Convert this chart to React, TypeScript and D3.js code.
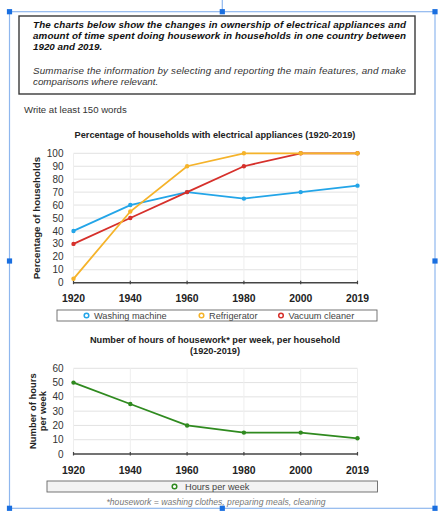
import * as d3 from 'd3';

// data
const years = ['1920', '1940', '1960', '1980', '2000', '2019'];
const washingMachine = [40, 60, 70, 65, 70, 75];
const refrigerator = [3, 55, 90, 100, 100, 100];
const vacuumCleaner = [30, 50, 70, 90, 100, 100];
const hoursPerWeek = [50, 35, 20, 15, 15, 11];
const pctTicks = [0, 10, 20, 30, 40, 50, 60, 70, 80, 90, 100];
const hourTicks = [0, 10, 20, 30, 40, 50, 60];

const applianceSeries = [
  { name: 'Washing machine', values: washingMachine, color: '#23a5e8' },
  { name: 'Vacuum cleaner', values: vacuumCleaner, color: '#d6302b' },
  { name: 'Refrigerator', values: refrigerator, color: '#f5b32a' },
];
const legendOrder = ['Washing machine', 'Refrigerator', 'Vacuum cleaner'];

const promptBold = [
  'The charts below show the changes in ownership of electrical appliances and',
  'amount of time spent doing housework in households in one country between',
  '1920 and 2019.',
];
const promptItalic = [
  'Summarise the information by selecting and reporting the main features, and make',
  'comparisons where relevant.',
];

const FONT = '"Liberation Sans", Arial, Helvetica, sans-serif';
const frameBlue = '#8fb7ee';
const handleBlue = '#1a6fe0';

export default function App() {
  const x = d3.scalePoint<string>().domain(years).range([73.5, 357.5]);
  const y1 = d3.scaleLinear().domain([0, 100]).range([282.7, 153.3]);
  const y2 = d3.scaleLinear().domain([0, 60]).range([454, 368.3]);

  const line1 = (vals: number[]) =>
    d3.line<number>().x((_, i) => x(years[i])!).y(d => y1(d))(vals) || '';
  const line2 = d3.line<number>().x((_, i) => x(years[i])!).y(d => y2(d));

  const [x0, x1] = x.range();

  const handles = [
    [9.5, 11.7], [222.3, 11.7], [435, 11.7],
    [9.5, 261], [435, 261],
    [9.5, 508.3], [222.3, 508.3], [435, 508.3],
  ];

  const legendX: Record<string, number> = {
    'Washing machine': 86.5,
    'Refrigerator': 201.5,
    'Vacuum cleaner': 281,
  };

  return (
    <svg
      width={447}
      height={512}
      style={{ position: 'absolute', left: 0, top: 0, background: '#fff' }}
      fontFamily={FONT}
    >
      <rect x={0} y={0} width={447} height={512} fill="#fff" />

      {/* prompt box */}
      <rect x={19} y={16} width={396} height={78} fill="#fff" stroke="#3a3a3a" strokeWidth={1.4} />
      {promptBold.map((t, i) => (
        <text
          key={t}
          x={33}
          y={27.7 + i * 11.3}
          fontSize={9.8}
          fontWeight="bold"
          fontStyle="italic"
          fill="#111"
          {...(i < 2 ? { textLength: 373, lengthAdjust: 'spacing' } : {})}
        >
          {t}
        </text>
      ))}
      {promptItalic.map((t, i) => (
        <text
          key={t}
          x={33}
          y={74 + i * 11}
          fontSize={9.8}
          fontStyle="italic"
          fill="#333"
          {...(i < 1 ? { textLength: 373, lengthAdjust: 'spacing' } : {})}
        >
          {t}
        </text>
      ))}
      <text x={24} y={113.3} fontSize={9.6} fill="#333">Write at least 150 words</text>

      {/* chart 1 */}
      <text x={215} y={137.5} textAnchor="middle" fontSize={9.2} fontWeight="bold" fill="#222">
        Percentage of households with electrical appliances (1920-2019)
      </text>
      {pctTicks.map(t => (
        <g key={t}>
          {t > 0 && (
            <line x1={x0} x2={x1} y1={y1(t)} y2={y1(t)} stroke="#e2e2e2" strokeWidth={1} />
          )}
          <text x={63.5} y={y1(t) + 3.6} textAnchor="end" fontSize={10} fill="#333">{t}</text>
        </g>
      ))}
      {years.map(yr => (
        <g key={yr}>
          <line x1={x(yr)} x2={x(yr)} y1={y1(100)} y2={y1(0)} stroke="#eeeeee" strokeWidth={1} />
          <line x1={x(yr)} x2={x(yr)} y1={y1(0) - 2} y2={y1(0) + 1.5} stroke="#444" strokeWidth={1.2} />
          <text x={x(yr)} y={302} textAnchor="middle" fontSize={10.4} fontWeight="bold" fill="#222">{yr}</text>
        </g>
      ))}
      <line x1={x0} x2={x1} y1={y1(0)} y2={y1(0)} stroke="#444" strokeWidth={1.4} />
      <text
        transform={`translate(39.5,${(y1(0) + y1(100)) / 2}) rotate(-90)`}
        textAnchor="middle"
        fontSize={9.8}
        fontWeight="bold"
        fill="#222"
      >
        Percentage of households
      </text>
      {applianceSeries.map(s => (
        <g key={s.name}>
          <path d={line1(s.values)} fill="none" stroke={s.color} strokeWidth={1.8} />
          {s.values.map((v, i) => (
            <circle key={i} cx={x(years[i])} cy={y1(v)} r={2.2} fill={s.color} />
          ))}
        </g>
      ))}
      <rect x={57} y={310} width={320} height={11} fill="#fff" stroke="#666" strokeWidth={0.9} />
      {legendOrder.map(name => {
        const s = applianceSeries.find(d => d.name === name)!;
        return (
          <g key={name}>
            <circle cx={legendX[name]} cy={315.5} r={2.3} fill="#fff" stroke={s.color} strokeWidth={1.5} />
            <text x={legendX[name] + 7.5} y={318.9} fontSize={9.2} fill="#444">{name}</text>
          </g>
        );
      })}

      {/* chart 2 */}
      <text x={215} y={343} textAnchor="middle" fontSize={9.2} fontWeight="bold" fill="#222">
        Number of hours of housework* per week, per household
      </text>
      <text x={215} y={353.5} textAnchor="middle" fontSize={9.2} fontWeight="bold" fill="#222">
        (1920-2019)
      </text>
      {hourTicks.map(t => (
        <g key={t}>
          {t > 0 && (
            <line x1={x0} x2={x1} y1={y2(t)} y2={y2(t)} stroke="#e2e2e2" strokeWidth={1} />
          )}
          <text x={63.5} y={y2(t) + 3.6} textAnchor="end" fontSize={10} fill="#333">{t}</text>
        </g>
      ))}
      {years.map(yr => (
        <g key={yr}>
          <line x1={x(yr)} x2={x(yr)} y1={y2(60)} y2={y2(0)} stroke="#eeeeee" strokeWidth={1} />
          <line x1={x(yr)} x2={x(yr)} y1={y2(0) - 2} y2={y2(0) + 1.5} stroke="#444" strokeWidth={1.2} />
          <text x={x(yr)} y={473.5} textAnchor="middle" fontSize={10.4} fontWeight="bold" fill="#222">{yr}</text>
        </g>
      ))}
      <line x1={x0} x2={x1} y1={y2(0)} y2={y2(0)} stroke="#444" strokeWidth={1.4} />
      <g transform={`translate(0,${(y2(0) + y2(60)) / 2}) rotate(-90)`} fontSize={9.4} fontWeight="bold" fill="#222">
        <text x={0} y={35.5} textAnchor="middle">Number of hours</text>
        <text x={0} y={45.5} textAnchor="middle">per week</text>
      </g>
      <path d={line2(hoursPerWeek) || ''} fill="none" stroke="#2f8a1f" strokeWidth={1.8} />
      {hoursPerWeek.map((v, i) => (
        <circle key={i} cx={x(years[i])} cy={y2(v)} r={2.2} fill="#2f8a1f" />
      ))}
      <rect x={47} y={481} width={330.5} height={11} fill="#f3f3f3" stroke="#666" strokeWidth={0.9} />
      <circle cx={174.5} cy={486.5} r={2.3} fill="#fff" stroke="#2f8a1f" strokeWidth={1.5} />
      <text x={185} y={490} fontSize={9.2} fill="#444">Hours per week</text>
      <text x={216} y={504.5} textAnchor="middle" fontSize={8.6} fontStyle="italic" fill="#777">
        *housework = washing clothes, preparing meals, cleaning
      </text>

      {/* selection frame */}
      <line x1={222.3} x2={222.3} y1={0} y2={11.7} stroke={frameBlue} strokeWidth={1.2} />
      <rect x={9.5} y={11.7} width={425.5} height={496.6} fill="none" stroke={frameBlue} strokeWidth={1.2} />
      {handles.map(([hx, hy], i) => (
        <rect key={i} x={hx - 2.6} y={hy - 2.6} width={5.2} height={5.2} fill={handleBlue} />
      ))}
    </svg>
  );
}
